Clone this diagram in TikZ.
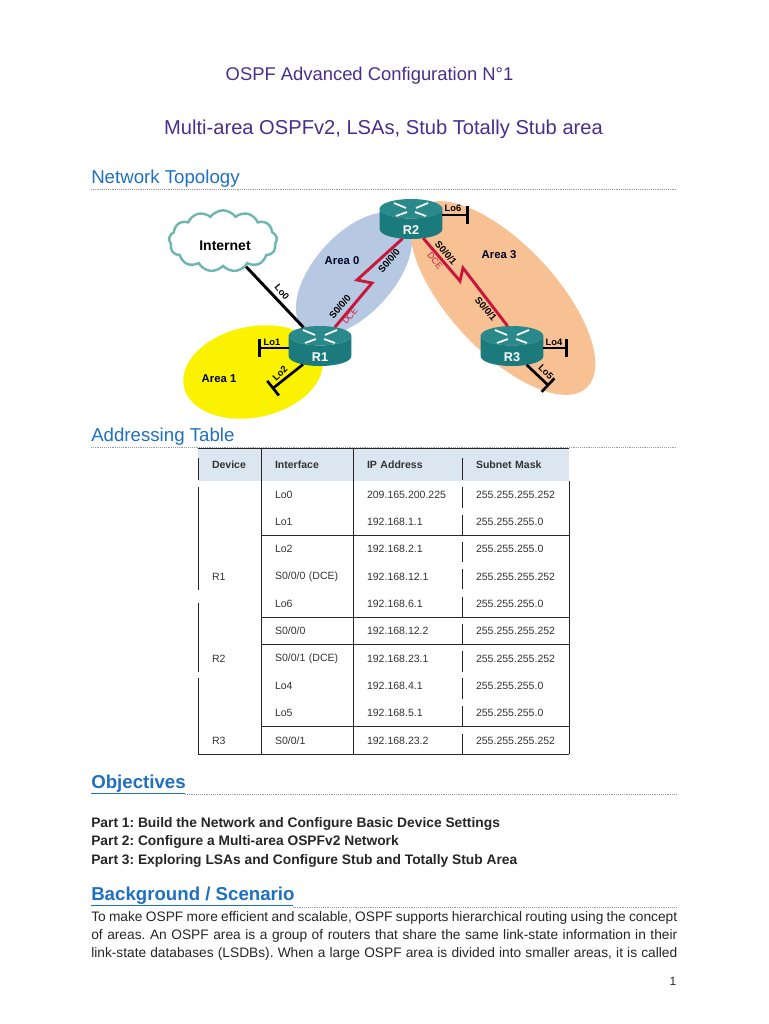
\documentclass[tikz,border=0pt]{standalone}
\usepackage{fontspec}
\setmainfont{Liberation Sans}
\usepackage{xcolor}
\usepackage{tikz}
\usetikzlibrary{arrows.meta,positioning,calc,shapes.geometric,shapes.symbols}
\definecolor{ospfpurple}{HTML}{4B2E8C}
\definecolor{ospfblue}{HTML}{1F70C1}
\definecolor{tablehead}{HTML}{DCE6F1}
\definecolor{areayellow}{HTML}{FBF200}
\definecolor{areablue}{HTML}{B7C9E2}
\definecolor{areaorange}{HTML}{F8C193}
\definecolor{routerteal}{HTML}{1B7A7C}
\definecolor{routertop}{HTML}{2A8A8B}
\definecolor{cloudteal}{HTML}{6FB5B0}
\definecolor{serialred}{HTML}{C8173C}
\newcommand{\routermark}[1]{
  \draw[white, line width=1.3pt] ($(#1.center)+(-17,-21)$) -- ($(#1.center)+(-5,-16)$);
  \draw[white, line width=1.3pt] ($(#1.center)+(17,-21)$) -- ($(#1.center)+(5,-16)$);
  \draw[white, line width=1.3pt] ($(#1.center)+(-15,-8)$) -- ($(#1.center)+(-4,-12)$);
  \draw[white, line width=1.3pt] ($(#1.center)+(15,-8)$) -- ($(#1.center)+(4,-12)$);
}
\newcommand{\rname}[1]{\smash{\raisebox{-7.75pt}{#1}}}

\begin{document}
\frenchspacing
\begin{tikzpicture}[
  x=0.75pt, y=-0.75pt,
  title/.style={text=ospfpurple, font=\fontsize{13.8}{16}\selectfont},
  subtitle/.style={text=ospfpurple, font=\fontsize{15.1}{17}\selectfont},
  heading/.style={anchor=base west, inner sep=0pt, text=ospfblue, font=\fontsize{14}{16}\selectfont},
  boldheading/.style={heading, font=\fontsize{14}{16}\selectfont\bfseries},
  rulerdots/.style={draw=black!40, line width=0.4pt, densely dotted},
  area/.style={ellipse, inner sep=0pt},
  router/.style={cylinder, shape border rotate=90, aspect=1.2, minimum width=47pt, minimum height=30pt, inner sep=0pt, outer sep=0pt, cylinder uses custom fill, cylinder body fill=routerteal, cylinder end fill=routertop, text=white, font=\fontsize{9.5}{11}\selectfont\bfseries},
  stub/.style={-{Bar[width=14pt, line width=2pt]}, line width=2pt},
  serial/.style={serialred, line width=2.2pt},
  tag/.style={inner sep=0pt, font=\fontsize{7}{8}\selectfont\bfseries},
  porttag/.style={tag, font=\fontsize{7.2}{8}\selectfont\bfseries},
  dce/.style={tag, text=serialred, font=\fontsize{6.5}{8}\selectfont},
  arealabel/.style={inner sep=0pt, text=black!85!blue, font=\fontsize{8.5}{10}\selectfont\bfseries},
  cell/.style={inner xsep=10.5pt, inner ysep=0pt, outer sep=0pt, align=left, minimum height=20.48pt, text=black!80, font=\fontsize{7.9}{10}\selectfont},
  headcell/.style={cell, minimum height=24.75pt, font=\fontsize{7.9}{10}\selectfont\bfseries},
  ifcell/.style={cell, text width=48pt},
  ipcell/.style={cell, text width=60.75pt},
  maskcell/.style={cell, text width=59.25pt},
  devcell/.style={cell, text width=26.25pt},
  rowline/.style={line width=0.7pt, black!85}
]
\useasboundingbox (0,0) rectangle (768,1024);
\fill[white] (0,0) rectangle (768,1024);

\node[title] (title1) at (369.5,76) {OSPF Advanced Configuration N°1};
\node[subtitle] (title2) at (383.5,129) {Multi-area OSPFv2, LSAs, Stub Totally Stub area};
\node[heading] (topo) at (91,183) {Network Topology};
\draw[rulerdots] (91,189) -- (677,189);

% areas
\node[area, fill=areayellow, minimum width=106pt, minimum height=68pt, rotate=12] (area1) at (253,372) {};
\node[area, fill=areablue, minimum width=112pt, minimum height=60pt, rotate=48] (area0) at (354,274) {};
\node[area, fill=areaorange, minimum width=184pt, minimum height=80pt, rotate=-47] (area3) at (503,298) {};

\node[cloud, cloud puffs=13, cloud puff arc=110, aspect=1.9, draw=cloudteal, line width=1.8pt, fill=white, minimum width=81pt, minimum height=46pt, inner sep=0pt, font=\fontsize{10.5}{12}\selectfont\bfseries] (inet) at (223,241) {\smash{\raisebox{-7pt}{\hspace{3pt}Internet}}};

\node[router] (R1) at (320,351) {\rname{R1}};
\node[router] (R2) at (411,224) {\rname{R2}};
\node[router] (R3) at (512,351) {\rname{R3}};
\routermark{R1}
\routermark{R2}
\routermark{R3}

\coordinate (zig1) at (372,283);
\coordinate (zig2) at (357,280);
\coordinate (zig3) at (460,281);
\coordinate (zig4) at (463,268);
\coordinate (end1) at (258,348);
\coordinate (end2) at (272,389);
\coordinate (end6) at (469,215);
\coordinate (end4) at (568,348);
\coordinate (end5) at (549,386);

\draw[line width=2.2pt] (inet.-48) -- (R1.125);
\draw[serial] (R1.58) -- (zig1) -- (zig2) -- (R2.240);
\draw[serial] (R2) -- (zig3) -- (zig4) -- (R3.100);
\draw[stub] (end1 -| R1.west) -- (end1);
\draw[stub] (R1) -- (end2);
\draw[stub] (end6 -| R2.east) -- (end6);
\draw[stub] (end4 -| R3.east) -- (end4);
\draw[stub] (R3) -- (end5);

\node[tag, rotate=-50] (lo0) at (282,292) {Lo0};
\node[tag] (lo1) at (272,342) {Lo1};
\node[tag, rotate=45] (lo2) at (280,373) {Lo2};
\node[tag] (lo6) at (453,208) {Lo6};
\node[tag] (lo4) at (554,342) {Lo4};
\node[tag, rotate=-45] (lo5) at (546,372) {Lo5};
\node[porttag, rotate=50] (s000a) at (340,307) {S0/0/0};
\node[porttag, rotate=50] (s000b) at (389,261) {S0/0/0};
\node[dce, rotate=50] (dce1) at (350,316) {DCE};
\node[porttag, rotate=-50] (s001a) at (446,253) {S0/0/1};
\node[porttag, rotate=-50] (s001b) at (486,309) {S0/0/1};
\node[dce, rotate=-50] (dce2) at (435,261) {DCE};
\node[arealabel] (lab0) at (342,261) {Area 0};
\node[arealabel] (lab1) at (219,379) {Area 1};
\node[arealabel] (lab3) at (499,255) {Area 3};

\node[heading] (addr) at (91,441) {Addressing Table};
\draw[rulerdots] (91,447) -- (677,447);

% table
\fill[tablehead] (198,448) rectangle (569,481);
\node[headcell, text width=48pt] (hif) at (307,464.5) {Interface};
\node[headcell, text width=26.25pt, left=0pt of hif] (hdev) {Device};
\node[headcell, text width=60.75pt, right=0pt of hif] (hip) {IP Address};
\node[headcell, text width=59.25pt, right=0pt of hip] (hmask) {Subnet Mask};

\node[ifcell, below=0pt of hif] (if1) {Lo0};
\node[ifcell, below=0pt of if1] (if2) {Lo1};
\node[ifcell, below=0pt of if2] (if3) {Lo2};
\node[ifcell, below=0pt of if3] (if4) {S0/0/0 (DCE)};
\node[ifcell, below=0pt of if4] (if5) {Lo6};
\node[ifcell, below=0pt of if5] (if6) {S0/0/0};
\node[ifcell, below=0pt of if6] (if7) {S0/0/1 (DCE)};
\node[ifcell, below=0pt of if7] (if8) {Lo4};
\node[ifcell, below=0pt of if8] (if9) {Lo5};
\node[ifcell, below=0pt of if9] (if10) {S0/0/1};

\node[ipcell, right=0pt of if1] (ip1) {209.165.200.225};
\node[ipcell, right=0pt of if2] (ip2) {192.168.1.1};
\node[ipcell, right=0pt of if3] (ip3) {192.168.2.1};
\node[ipcell, right=0pt of if4] (ip4) {192.168.12.1};
\node[ipcell, right=0pt of if5] (ip5) {192.168.6.1};
\node[ipcell, right=0pt of if6] (ip6) {192.168.12.2};
\node[ipcell, right=0pt of if7] (ip7) {192.168.23.1};
\node[ipcell, right=0pt of if8] (ip8) {192.168.4.1};
\node[ipcell, right=0pt of if9] (ip9) {192.168.5.1};
\node[ipcell, right=0pt of if10] (ip10) {192.168.23.2};

\node[maskcell, right=0pt of ip1] (mask1) {255.255.255.252};
\node[maskcell, right=0pt of ip2] (mask2) {255.255.255.0};
\node[maskcell, right=0pt of ip3] (mask3) {255.255.255.0};
\node[maskcell, right=0pt of ip4] (mask4) {255.255.255.252};
\node[maskcell, right=0pt of ip5] (mask5) {255.255.255.0};
\node[maskcell, right=0pt of ip6] (mask6) {255.255.255.252};
\node[maskcell, right=0pt of ip7] (mask7) {255.255.255.252};
\node[maskcell, right=0pt of ip8] (mask8) {255.255.255.0};
\node[maskcell, right=0pt of ip9] (mask9) {255.255.255.0};
\node[maskcell, right=0pt of ip10] (mask10) {255.255.255.252};

\node[devcell, left=0pt of if4] (dev1) {R1};
\node[devcell, left=0pt of if7] (dev2) {R2};
\node[devcell, left=0pt of if10] (dev3) {R3};

% table lines
\draw[rowline] (hdev.north west) -- (hmask.north east);
\draw[rowline] (hif.north west) -- (if10.south west);
\draw[rowline] (hip.north west) -- (ip10.south west);
\draw[rowline] (mask1.north east) -- (mask10.south east);
\draw[rowline] (if3.north west) -- (mask3.north east);
\draw[rowline] (if6.north west) -- (mask6.north east);
\draw[rowline] (if7.north west) -- (mask7.north east);
\draw[rowline] (if10.north west) -- (mask10.north east);
\draw[rowline] (dev3.south west) -- (mask10.south east);
\draw[rowline] (198,458) -- (198,480);
\draw[rowline] (198,487) -- (198,590);
\draw[rowline] (198,603) -- (198,672);
\draw[rowline] (198,678) -- (198,754);
\draw[rowline] (462,458) -- (462,480);
\draw[rowline] (462,487) -- (462,508);
\draw[rowline] (462,515) -- (462,535);
\draw[rowline] (462,542) -- (462,562);
\draw[rowline] (462,569) -- (462,589);
\draw[rowline] (462,597) -- (462,617);
\draw[rowline] (462,624) -- (462,644);
\draw[rowline] (462,651) -- (462,672);
\draw[rowline] (462,678) -- (462,699);
\draw[rowline] (462,706) -- (462,726);
\draw[rowline] (462,734) -- (462,754);

\node[boldheading] (obj) at (91,788) {Objectives};
\draw[ospfblue, line width=0.6pt] (obj.base west)++(0,5) -- ++(94,0);
\draw[rulerdots] (185,794) -- (677,794);
\node[anchor=north west, inner sep=0pt, align=left, text=black!85, font=\fontsize{10.35}{13.8}\selectfont\bfseries] (parts) at (91,817) {Part 1: Build the Network and Configure Basic Device Settings\\Part 2: Configure a Multi-area OSPFv2 Network\\Part 3: Exploring LSAs and Configure Stub and Totally Stub Area};

\node[boldheading] (back) at (91,900) {Background / Scenario};
\draw[ospfblue, line width=0.6pt] (back.base west)++(0,5) -- ++(202,0);
\draw[rulerdots] (293,907) -- (677,907);
\node[anchor=north west, inner sep=0pt, text width=439.5pt, align=justify, text=black!85, font=\fontsize{10.3}{13.5}\selectfont] (para) at (91,911) {To make OSPF more efficient and scalable, OSPF supports hierarchical routing using the concept\linebreak of areas. An OSPF area is a group of routers that share the same link-state information in their\linebreak link-state databases (LSDBs). When a large OSPF area is divided into smaller areas, it is called\linebreak};
\node[inner sep=0pt, text=black!85, font=\fontsize{9}{11}\selectfont] (pagenum) at (673,981) {1};
\end{tikzpicture}
\end{document}
